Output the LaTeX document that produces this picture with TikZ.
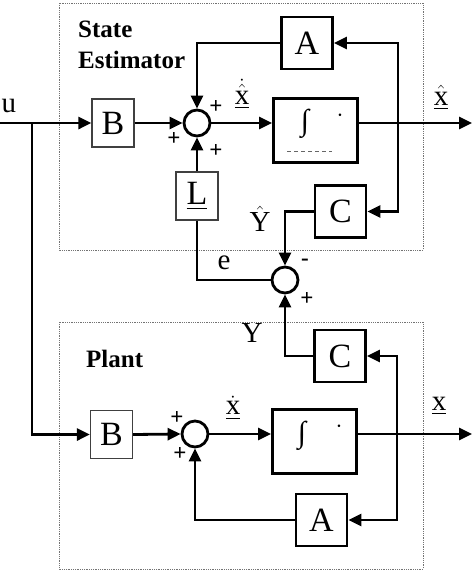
\documentclass[tikz,border=0pt]{standalone}
\usepackage{amsmath}
\usepackage{fontspec}
\setmainfont{Liberation Serif}
\usetikzlibrary{arrows.meta}
\tikzset{
>={Triangle[length=13pt,width=12pt]},
  sig/.style={draw, line width=2.8pt, ->},
  wire/.style={draw, line width=2.8pt},
  blk/.style={
    draw, line width=2.8pt,
    minimum width=51pt,
    minimum height=52pt,
    inner sep=0pt,
    font=\fontsize{34}{36}\selectfont},
  gain/.style={
    draw=black!75, line width=1.2pt,
    minimum width=42pt,
    minimum height=48pt,
    inner sep=0pt,
    font=\fontsize{34}{36}\selectfont},
  intblk/.style={draw, line width=2.8pt, minimum width=84pt, minimum height=64pt},
  sumnode/.style={circle, draw, line width=2.8pt, minimum size=26pt, inner sep=0pt},
  region/.style={draw=black!55, densely dotted, line width=0.8pt},
  lbl/.style={font=\fontsize{29}{30}\selectfont, inner sep=0pt},
  sgn/.style={font=\bfseries\fontsize{23}{24}\selectfont, inner sep=0pt},
  title/.style={font=\bfseries\fontsize{25}{31}\selectfont, align=left, inner sep=0pt},
  intsym/.style={font=\fontsize{30}{32}\selectfont, inner sep=0pt},
}

\begin{document}
\begin{tikzpicture}[x=1pt,y=-1pt]
\useasboundingbox (0,0) rectangle (474,571);

  %% State estimator
  \draw[region] (59,3) rectangle (423,250);
  \node[title, anchor=north west] (esttitle) at (78,21) {State\\Estimator};

  \node[gain] (eB) at (113,123) {B};
  \node[sumnode] (esum) at (197,123) {};
  \node[blk] (eA) at (307,43) {A};
  \node[intblk] (eint) at (315.5,130.5) {};
  \node[gain] (eL) at (197,196) {\underline{L}};
  \node[blk] (eC) at (340.5,211.5) {C};
  \node[sumnode] (errsum) at (285,280) {};

  \node[intsym] (eintsym) at (305,124) {∫};
  \node[intsym] (eintdot) at (340,116) {$\cdot$};
  \draw[dashed, black!60, line width=0.6pt, dash pattern=on 4pt off 3pt] (287,151) -- (332,151);

  \coordinate (uin) at (0,123);
  \coordinate (usplit) at (32,123);
  \coordinate (etap) at (398,123);
  \coordinate (xhatout) at (472,123);

  \draw[sig] (uin) -- (eB.west);
  \draw[sig] (eB.east) -- (esum.west);
  \draw[sig] (eA.west) -| (esum.north);
  \draw[sig] (eL.north) -- (esum.south);
  \draw[sig] (esum.east) -- (eint.west |- esum.east);
  \draw[sig] (eint.east |- esum.east) -- (xhatout);
  \draw[sig] (etap) |- (eA.east);
  \draw[sig] (etap) |- (eC.east);
  \draw[wire] (eL.south) |- (errsum.west);
  \draw[sig] (eC.west) -| (errsum.north);

  \node[lbl] (ulbl) at (9,106) {u};
  \node[lbl] (xhatlbl) at (441,98) {$\underline{\hat{\text{x}}}$};
  \node[lbl] (xhatdotlbl) at (242,94) {$\underline{\dot{\hat{\text{x}}}}$};
  \node[lbl] (yhatlbl) at (260,219) {$\hat{\text{Y}}$};
  \node[lbl] (elbl) at (224,263) {e};
  \node[sgn] (s1) at (216,107) {+};
  \node[sgn] (s2) at (174,139) {+};
  \node[sgn] (s3) at (216,151) {+};
  \node[sgn] (s4) at (305,262) {-};
  \node[sgn] (s5) at (307,299) {+};

  %% Plant
  \draw[region] (59,322) rectangle (423,569);
  \node[title, anchor=north west] (plttitle) at (86,350) {Plant};

  \node[blk] (pC) at (340,356) {C};
  \node[gain] (pB) at (111.5,434.5) {B};
  \node[sumnode] (psum) at (195,434) {};
  \node[intblk] (pint) at (314.5,441.5) {};
  \node[blk] (pA) at (321.5,520) {A};

  \node[intsym] (pintsym) at (302,436) {∫};
  \node[intsym] (pintdot) at (339,427) {$\cdot$};

  \coordinate (ptap) at (397,434);
  \coordinate (xout) at (472,434);

  \draw[sig] (usplit) |- (pB.west);
  \draw[sig] (pB.east) -- (psum.west);
  \draw[sig] (psum.east) -- (pint.west |- psum.east);
  \draw[sig] (pint.east |- psum.east) -- (xout);
  \draw[sig] (ptap) |- (pC.east);
  \draw[sig] (ptap) |- (pA.east);
  \draw[sig] (pA.west) -| (psum.south);
  \draw[sig] (pC.west) -| (errsum.south);

  \node[lbl] (ylbl) at (252,333) {Y};
  \node[lbl] (xdotlbl) at (233,408) {$\underline{\dot{\text{x}}}$};
  \node[lbl] (xlbl) at (439,406) {$\underline{\text{x}}$};
  \node[sgn] (s6) at (177,418) {+};
  \node[sgn] (s7) at (180,454) {+};

\end{tikzpicture}
\end{document}
